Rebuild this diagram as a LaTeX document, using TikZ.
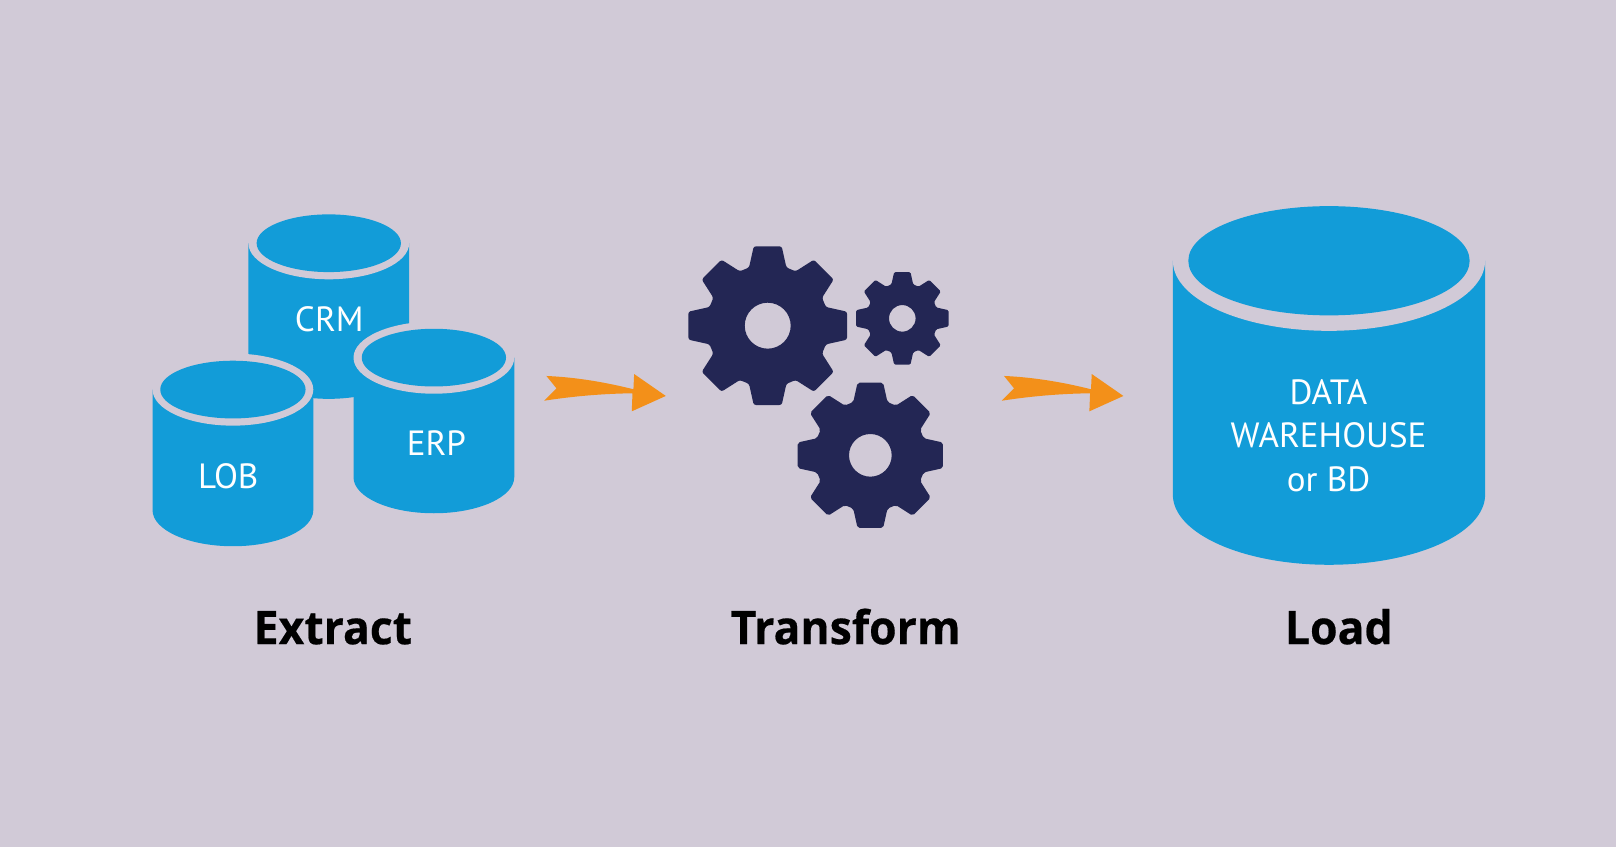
\documentclass[tikz,border=0pt]{standalone}
\usepackage{fontspec}
\setmainfont{PT Sans}
\newfontfamily\headfont[FakeStretch=0.96,FakeBold=0.4]{Open Sans}
\definecolor{bgc}{RGB}{209,202,215}
\definecolor{bluec}{RGB}{18,156,216}
\definecolor{navyc}{RGB}{35,38,84}
\definecolor{orangec}{RGB}{243,144,25}
\newcommand{\cylshape}[7]{% cx cy Rx Ry(gap/bottom) toprx topry sidebottom
  \fill[bluec] (#1-#3,#2) -- (#1+#3,#2) -- (#1+#3,#7) arc[start angle=0,end angle=180,x radius=#3,y radius=#4] -- cycle;
  \fill[bgc] (#1,#2) ellipse[x radius=#3,y radius=#4];
  \fill[bluec] (#1,#2) ellipse[x radius=#5,y radius=#6];
}
\newcommand{\gearshape}[4]{% cx cy R hole
  \fill[navyc,even odd rule,rounded corners=#3*0.028pt]
    ([shift={(-10:#3*1.015)}]#1,#2)
    \foreach \a in {0,45,...,270}{
      -- ([shift={(\a+10:#3*1.015)}]#1,#2)
      -- ([shift={(\a+17.8:#3*0.77)}]#1,#2)
      -- ([shift={(\a+27.2:#3*0.77)}]#1,#2)
      -- ([shift={(\a+35:#3*1.015)}]#1,#2)
    }
    -- ([shift={(325:#3*1.015)}]#1,#2)
    -- ([shift={(332.8:#3*0.77)}]#1,#2)
    -- ([shift={(342.2:#3*0.77)}]#1,#2)
    -- cycle
    [sharp corners] (#1,#2) circle[radius=#4];
}
\newcommand{\arrowshape}[1]{%
  \begin{scope}[xshift=#1]
  \fill[orangec] (974.2,364.8) .. controls (1003,366) and (1032,371) .. (1058.6,377.7)
    -- (1059.3,362.9) -- (1090,384.2) -- (1057,399.1) -- (1057.7,381.6)
    .. controls (1028,382) and (1000,384.5) .. (972,388.8) -- (983.9,376.8) -- cycle;
  \end{scope}
}
\tikzset{
  dblabel/.style={text=white,anchor=base,inner sep=0pt,font=\fontsize{34}{40}\selectfont},
  steplabel/.style={text=black,anchor=base,inner sep=0pt,font=\headfont\fontsize{45}{54}\selectfont\bfseries}
}
\begin{document}
\begin{tikzpicture}[x=1pt,y=-1pt]
\fill[bgc] (0,0) rectangle (1568,822);
\useasboundingbox (0,0) rectangle (1568,822);
\cylshape{319}{236}{78}{35}{70}{28}{352}
\cylshape{421}{347}{78}{35}{70}{28}{463}
\cylshape{226}{378}{78}{35}{70.5}{28}{495}
\cylshape{1289.5}{253}{151.5}{68}{136.5}{53}{480}
\node[dblabel] (crm) at (319.5,322) {CRM};
\node[dblabel] (erp) at (423.5,442) {ERP};
\node[dblabel] (lob) at (221.5,474) {LOB};
\node[dblabel] (dw1) at (1289,392) {DATA};
\node[dblabel] (dw2) at (1289,434) {WAREHOUSE};
\node[dblabel] (dw3) at (1289,477) {or BD};
\gearshape{744.9}{316}{77}{22.3}
\gearshape{875.5}{308.9}{44.9}{12.9}
\gearshape{844.5}{441.8}{70.5}{20.7}
\arrowshape{-444pt}
\arrowshape{0pt}
\node[steplabel] (ext) at (323,625) {Extract};
\node[steplabel] (tra) at (820.5,625) {Transform};
\node[steplabel] (loa) at (1299,625) {Load};
\end{tikzpicture}
\end{document}
